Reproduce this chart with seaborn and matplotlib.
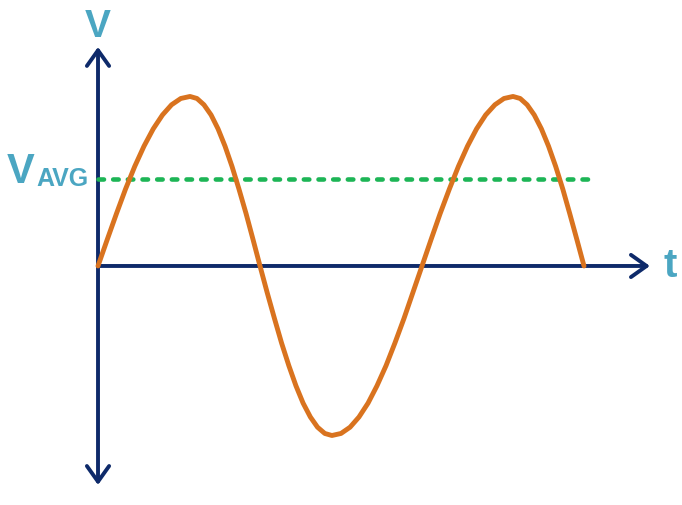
import matplotlib
matplotlib.use("Agg")
import matplotlib.pyplot as plt
import seaborn as sns
import pandas as pd

# waveform (t: one half-cycle = 1, V: peak = 1)
t_vals = [0, 0.057, 0.114, 0.170, 0.227, 0.284, 0.341, 0.398, 0.454, 0.511, 0.568,
          0.611, 0.654, 0.698, 0.741, 0.784, 0.827, 0.870, 0.914, 0.957, 1.0,
          1.044, 1.089, 1.133, 1.178, 1.222, 1.266, 1.311, 1.355, 1.400, 1.444,
          1.500, 1.556, 1.611, 1.667, 1.722, 1.778, 1.833, 1.889, 1.944, 2.0,
          2.056, 2.112, 2.169, 2.225, 2.281, 2.337, 2.393, 2.450, 2.506, 2.562,
          2.606, 2.649, 2.693, 2.737, 2.781, 2.825, 2.869, 2.912, 2.956, 3.0]
v_vals = [0, .156, .309, .454, .588, .707, .809, .891, .951, .988, 1,
          .988, .951, .891, .809, .707, .588, .454, .309, .156, 0,
          -.156, -.309, -.454, -.588, -.707, -.809, -.891, -.951, -.988, -1,
          -.988, -.951, -.891, -.809, -.707, -.588, -.454, -.309, -.156, 0,
          .156, .309, .454, .588, .707, .809, .891, .951, .988, 1,
          .988, .951, .891, .809, .707, .588, .454, .309, .156, 0]
v_avg = 0.515
avg_t = [0, 3.04]

navy = "#0e2a6a"
orange = "#d9731f"
green = "#1db556"
teal = "#4ba6c2"

sns.set_style("white")
plt.rcParams['font.family'] = ['Liberation Sans', 'DejaVu Sans']

fig = plt.figure(figsize=(6.82, 5.05), dpi=100)
ax = fig.add_axes([0, 0, 1, 1])
ax.set_xlim(-0.605, 3.605)
ax.set_ylim(-1.410, 1.569)
ax.axis("off")

wave = pd.DataFrame({"t": t_vals, "V": v_vals})

# axes with arrow heads
head = "head_length=0.45,head_width=0.32"
ax.annotate("", xy=(3.407, 0), xytext=(0, 0),
            arrowprops=dict(arrowstyle="->," + head, lw=2.8, color=navy,
                            mutation_scale=25, shrinkA=0, shrinkB=0,
                            capstyle="round", joinstyle="round"))
ax.annotate("", xy=(0, 1.292), xytext=(0, -1.292),
            arrowprops=dict(arrowstyle="<->," + head, lw=2.8, color=navy,
                            mutation_scale=25, shrinkA=0, shrinkB=0,
                            capstyle="round", joinstyle="round"))

ax.plot(avg_t, [v_avg, v_avg], color=green, lw=3.3, linestyle=(0, (1.2, 2.0)),
        dash_capstyle="round", zorder=3)
sns.lineplot(data=wave, x="t", y="V", ax=ax, color=orange, lw=3.5,
             sort=False, estimator=None, zorder=4)

ax.text(0, 1.41, "V", color=teal, fontsize=28, fontweight="bold",
        ha="center", va="center")
ax.text(3.53, 0, "t", color=teal, fontsize=29, fontweight="bold",
        ha="center", va="center")
ax.text(-0.395, 0.490, "V", color=teal, fontsize=30, fontweight="bold",
        ha="right", va="baseline")
ax.text(-0.383, 0.472, "AVG", color=teal, fontsize=18, fontweight="bold",
        ha="left", va="baseline")

fig.savefig("out.png", dpi=100)
